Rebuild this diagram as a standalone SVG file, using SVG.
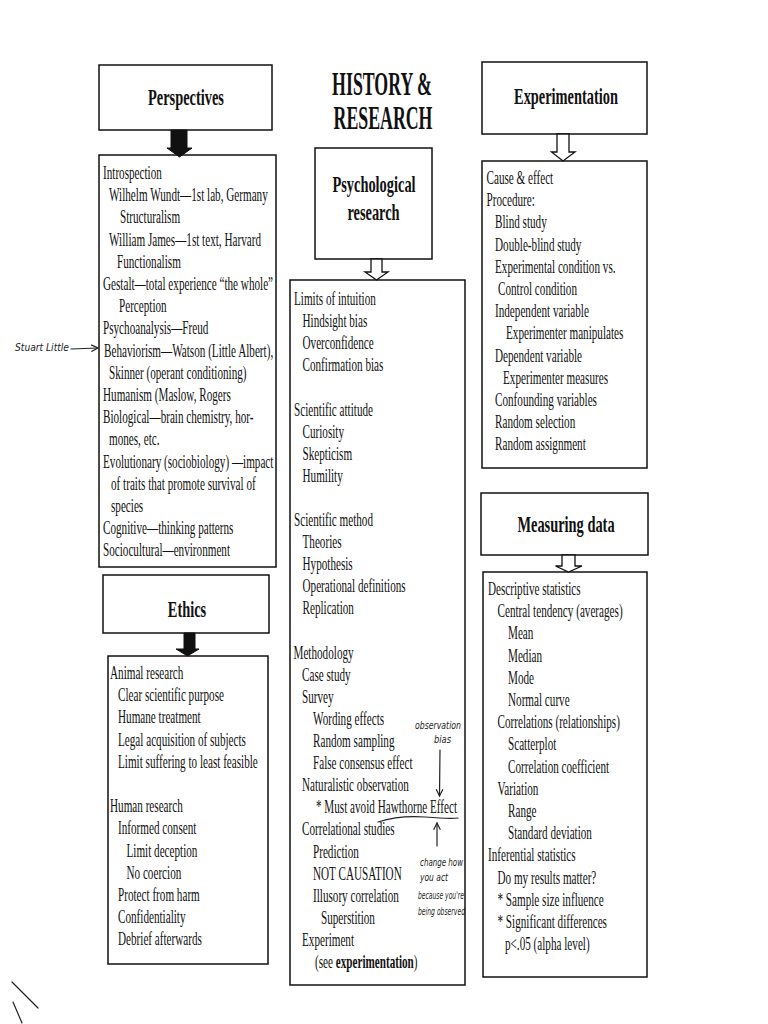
<svg xmlns="http://www.w3.org/2000/svg" width="768" height="1024" viewBox="0 0 768 1024">
<style>
.box{fill:#fff;stroke:#111;stroke-width:1.5}
.t{font-family:"Liberation Serif","Times New Roman",serif;font-size:18px;fill:#111}
.h{font-family:"Liberation Serif","Times New Roman",serif;font-size:24px;font-weight:bold;fill:#111;text-anchor:middle}
.ttl{font-family:"Liberation Serif","Times New Roman",serif;font-size:33px;font-weight:bold;fill:#111;text-anchor:middle}
.hw{font-family:"DejaVu Sans","Liberation Sans",sans-serif;font-size:10px;font-style:italic;fill:#222}
.pen{fill:none;stroke:#222;stroke-width:1.2;stroke-linecap:round}
.solid{fill:#111;stroke:#111;stroke-width:1}
.hollow{fill:#fff;stroke:#111;stroke-width:1.3;stroke-linejoin:miter}
</style>
<defs>
<marker id="pa" viewBox="0 0 10 10" refX="9" refY="5" markerWidth="7" markerHeight="7" orient="auto-start-reverse">
<path d="M1,1 L9,5 L1,9" fill="none" stroke="#222" stroke-width="1.4"/>
</marker>
</defs>
<rect width="768" height="1024" fill="#fff"/>

<g id="title">
<text class="ttl" transform="translate(382 95) scale(.54 1)">HISTORY &amp;</text>
<text class="ttl" transform="translate(383 129) scale(.54 1)">RESEARCH</text>
</g>

<g id="perspectives-header">
<rect class="box" x="99" y="65" width="173" height="65"/>
<text class="h" transform="translate(186 105) scale(.6 1)">Perspectives</text>
</g>

<g id="perspectives-list">
<rect class="box" x="99" y="155" width="177" height="412"/>
<text class="t" transform="translate(103 179) scale(.62 1)">Introspection</text>
<text class="t" transform="translate(109 201.2) scale(.62 1)">Wilhelm Wundt—1st lab, Germany</text>
<text class="t" transform="translate(120 223.4) scale(.62 1)">Structuralism</text>
<text class="t" transform="translate(109 245.6) scale(.62 1)">William James—1st text, Harvard</text>
<text class="t" transform="translate(117 267.8) scale(.62 1)">Functionalism</text>
<text class="t" transform="translate(103 290) scale(.62 1)">Gestalt—total experience “the whole”</text>
<text class="t" transform="translate(119 312.2) scale(.62 1)">Perception</text>
<text class="t" transform="translate(103 334.4) scale(.62 1)">Psychoanalysis—Freud</text>
<text class="t" transform="translate(104 356.6) scale(.62 1)">Behaviorism—Watson (Little Albert),</text>
<text class="t" transform="translate(109 378.8) scale(.62 1)">Skinner (operant conditioning)</text>
<text class="t" transform="translate(103 401) scale(.62 1)">Humanism (Maslow, Rogers</text>
<text class="t" transform="translate(103 423.2) scale(.62 1)">Biological—brain chemistry, hor-</text>
<text class="t" transform="translate(109 445.4) scale(.62 1)">mones, etc.</text>
<text class="t" transform="translate(103 467.6) scale(.62 1)">Evolutionary (sociobiology) —impact</text>
<text class="t" transform="translate(111 489.8) scale(.62 1)">of traits that promote survival of</text>
<text class="t" transform="translate(111 512) scale(.62 1)">species</text>
<text class="t" transform="translate(103 534.2) scale(.62 1)">Cognitive—thinking patterns</text>
<text class="t" transform="translate(103 556.4) scale(.62 1)">Sociocultural—environment</text>
</g>

<g id="ethics-header">
<rect class="box" x="103" y="575" width="166" height="58"/>
<text class="h" transform="translate(187 616.5) scale(.6 1)">Ethics</text>
</g>

<g id="ethics-list">
<rect class="box" x="108" y="656" width="160" height="308"/>
<text class="t" transform="translate(110 679) scale(.62 1)">Animal research</text>
<text class="t" transform="translate(118 701.2) scale(.62 1)">Clear scientific purpose</text>
<text class="t" transform="translate(118 723.4) scale(.62 1)">Humane treatment</text>
<text class="t" transform="translate(118 745.6) scale(.62 1)">Legal acquisition of subjects</text>
<text class="t" transform="translate(118 767.8) scale(.62 1)">Limit suffering to least feasible</text>
<text class="t" transform="translate(110 812.2) scale(.62 1)">Human research</text>
<text class="t" transform="translate(118 834.4) scale(.62 1)">Informed consent</text>
<text class="t" transform="translate(126.5 856.6) scale(.62 1)">Limit deception</text>
<text class="t" transform="translate(126.5 878.8) scale(.62 1)">No coercion</text>
<text class="t" transform="translate(118 901) scale(.62 1)">Protect from harm</text>
<text class="t" transform="translate(118 923.2) scale(.62 1)">Confidentiality</text>
<text class="t" transform="translate(118 945.4) scale(.62 1)">Debrief afterwards</text>
</g>

<g id="psych-header">
<rect class="box" x="315" y="148" width="117" height="111"/>
<text class="h" transform="translate(374 192) scale(.6 1)">Psychological</text>
<text class="h" transform="translate(373.5 220) scale(.6 1)">research</text>
</g>

<g id="psych-list">
<rect class="box" x="290" y="280" width="175" height="705"/>
<text class="t" transform="translate(294 305) scale(.62 1)">Limits of intuition</text>
<text class="t" transform="translate(302.5 327.1) scale(.62 1)">Hindsight bias</text>
<text class="t" transform="translate(302.5 349.2) scale(.62 1)">Overconfidence</text>
<text class="t" transform="translate(302.5 371.3) scale(.62 1)">Confirmation bias</text>
<text class="t" transform="translate(294 415.5) scale(.62 1)">Scientific attitude</text>
<text class="t" transform="translate(302.5 437.6) scale(.62 1)">Curiosity</text>
<text class="t" transform="translate(302.5 459.7) scale(.62 1)">Skepticism</text>
<text class="t" transform="translate(302.5 481.8) scale(.62 1)">Humility</text>
<text class="t" transform="translate(294 526) scale(.62 1)">Scientific method</text>
<text class="t" transform="translate(302.5 548.1) scale(.62 1)">Theories</text>
<text class="t" transform="translate(302.5 570.2) scale(.62 1)">Hypothesis</text>
<text class="t" transform="translate(302.5 592.3) scale(.62 1)">Operational definitions</text>
<text class="t" transform="translate(302.5 614.4) scale(.62 1)">Replication</text>
<text class="t" transform="translate(293.5 658.6) scale(.62 1)">Methodology</text>
<text class="t" transform="translate(302 680.7) scale(.62 1)">Case study</text>
<text class="t" transform="translate(302 702.8) scale(.62 1)">Survey</text>
<text class="t" transform="translate(313 724.9) scale(.62 1)">Wording effects</text>
<text class="t" transform="translate(313 747) scale(.62 1)">Random sampling</text>
<text class="t" transform="translate(313 769.1) scale(.62 1)">False consensus effect</text>
<text class="t" transform="translate(302 791.2) scale(.62 1)">Naturalistic observation</text>
<text class="t" transform="translate(316 813.3) scale(.62 1)">* Must avoid Hawthorne Effect</text>
<text class="t" transform="translate(302 835.4) scale(.62 1)">Correlational studies</text>
<text class="t" transform="translate(313 857.5) scale(.62 1)">Prediction</text>
<text class="t" transform="translate(313 879.6) scale(.62 1)">NOT CAUSATION</text>
<text class="t" transform="translate(313 901.7) scale(.62 1)">Illusory correlation</text>
<text class="t" transform="translate(321 923.8) scale(.62 1)">Superstition</text>
<text class="t" transform="translate(302 945.9) scale(.62 1)">Experiment</text>
<text class="t" transform="translate(315 968) scale(.62 1)">(see <tspan font-weight="bold">experimentation</tspan>)</text>
</g>

<g id="experimentation-header">
<rect class="box" x="482" y="62" width="165" height="72"/>
<text class="h" transform="translate(566 104) scale(.6 1)">Experimentation</text>
</g>

<g id="experimentation-list">
<rect class="box" x="482" y="161" width="165" height="307"/>
<text class="t" transform="translate(486.5 184) scale(.62 1)">Cause &amp; effect</text>
<text class="t" transform="translate(486.5 206.2) scale(.62 1)">Procedure:</text>
<text class="t" transform="translate(495 228.4) scale(.62 1)">Blind study</text>
<text class="t" transform="translate(495 250.6) scale(.62 1)">Double-blind study</text>
<text class="t" transform="translate(495 272.8) scale(.62 1)">Experimental condition vs.</text>
<text class="t" transform="translate(498 295) scale(.62 1)">Control condition</text>
<text class="t" transform="translate(495 317.2) scale(.62 1)">Independent variable</text>
<text class="t" transform="translate(506 339.4) scale(.62 1)">Experimenter manipulates</text>
<text class="t" transform="translate(495 361.6) scale(.62 1)">Dependent variable</text>
<text class="t" transform="translate(503 383.8) scale(.62 1)">Experimenter measures</text>
<text class="t" transform="translate(495 406) scale(.62 1)">Confounding variables</text>
<text class="t" transform="translate(495 428.2) scale(.62 1)">Random selection</text>
<text class="t" transform="translate(495 450.4) scale(.62 1)">Random assignment</text>
</g>

<g id="measuring-header">
<rect class="box" x="481" y="493" width="167" height="62"/>
<text class="h" transform="translate(566 531.5) scale(.6 1)">Measuring data</text>
</g>

<g id="measuring-list">
<rect class="box" x="483" y="572" width="164" height="405"/>
<text class="t" transform="translate(488 595) scale(.62 1)">Descriptive statistics</text>
<text class="t" transform="translate(497.5 617.2) scale(.62 1)">Central tendency (averages)</text>
<text class="t" transform="translate(508 639.4) scale(.62 1)">Mean</text>
<text class="t" transform="translate(508 661.6) scale(.62 1)">Median</text>
<text class="t" transform="translate(508 683.8) scale(.62 1)">Mode</text>
<text class="t" transform="translate(508 706) scale(.62 1)">Normal curve</text>
<text class="t" transform="translate(497.5 728.2) scale(.62 1)">Correlations (relationships)</text>
<text class="t" transform="translate(508 750.4) scale(.62 1)">Scatterplot</text>
<text class="t" transform="translate(508 772.6) scale(.62 1)">Correlation coefficient</text>
<text class="t" transform="translate(497.5 794.8) scale(.62 1)">Variation</text>
<text class="t" transform="translate(508 817) scale(.62 1)">Range</text>
<text class="t" transform="translate(508 839.2) scale(.62 1)">Standard deviation</text>
<text class="t" transform="translate(488 861.4) scale(.62 1)">Inferential statistics</text>
<text class="t" transform="translate(497.5 883.6) scale(.62 1)">Do my results matter?</text>
<text class="t" transform="translate(497.5 905.8) scale(.62 1)">* Sample size influence</text>
<text class="t" transform="translate(497.5 928) scale(.62 1)">* Significant differences</text>
<text class="t" transform="translate(505 950.2) scale(.62 1)">p&lt;.05 (alpha level)</text>
</g>

<g id="connectors">
<polygon class="solid" points="171,130 187,130 187,148 192,148 179.5,157 167,148 171,148"/>
<polygon class="solid" points="184,633 195,633 195,649 199,649 187.5,656 176,649 184,649"/>
<polygon class="hollow" points="371,259 382,259 382,272 388,272 376.5,280 365,272 371,272"/>
<polygon class="hollow" points="557,134 569,134 569,152 575,152 563,161 551.5,152 557,152"/>
<polygon class="hollow" points="562,555 575,555 575,566 582,566 568.5,572 555.5,566 562,566"/>
</g>

<g id="annotations">
<text class="hw" x="15" y="351" textLength="54" lengthAdjust="spacingAndGlyphs" font-size="12">Stuart Little</text>
<path class="pen" d="M71,349 L98,348" marker-end="url(#pa)"/>
<text class="hw" x="415" y="729" textLength="46" lengthAdjust="spacingAndGlyphs">observation</text>
<text class="hw" x="434" y="743" textLength="17" lengthAdjust="spacingAndGlyphs">bias</text>
<path class="pen" d="M440,750 L439.5,796" marker-end="url(#pa)"/>
<path class="pen" d="M378,822 Q400,815 425,817 T458,818"/>
<path class="pen" d="M437,846 L437,823" marker-end="url(#pa)"/>
<text class="hw" x="420" y="866" textLength="43" lengthAdjust="spacingAndGlyphs">change how</text>
<text class="hw" x="420" y="881" textLength="28" lengthAdjust="spacingAndGlyphs">you act</text>
<text class="hw" x="418" y="899" textLength="46" lengthAdjust="spacingAndGlyphs">because you're</text>
<text class="hw" x="418" y="915" textLength="47" lengthAdjust="spacingAndGlyphs">being observed</text>
<path class="pen" d="M12,982 L38,1008"/>
<path class="pen" d="M13,1002 L22,1023"/>
</g>
</svg>
